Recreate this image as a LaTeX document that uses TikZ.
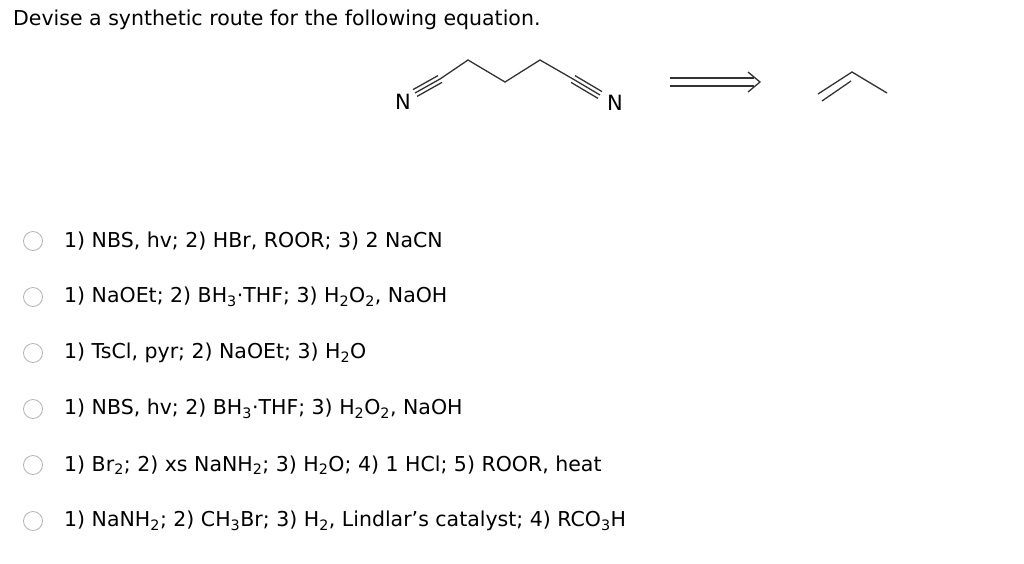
\documentclass[tikz,border=0pt]{standalone}
\usepackage{fontspec}
\setmainfont{DejaVu Sans}
\begin{document}
\begin{tikzpicture}[x=1pt,y=-1pt,
 opt/.style={anchor=west,font=\fontsize{20.5}{24}\selectfont,inner sep=0pt},
 radio/.style={circle,draw=gray!60,line width=0.8pt,minimum size=19pt,inner sep=0pt},
 bnd/.style={line width=1.3pt,black!80},
 atom/.style={font=\fontsize{21}{24}\selectfont,inner sep=1pt}]
\useasboundingbox (0,0) rectangle (1024,563);
\node[opt] (title) at (13,20) {Devise a synthetic route for the following equation.};
% molecule
\node[atom] (N1) at (403,102) {N};
\node[atom] (N2) at (615,103) {N};
\coordinate (t1) at (415,93);
\coordinate (c1) at (440,79);
\coordinate (c2) at (468,60);
\coordinate (c3) at (505,82);
\coordinate (c4) at (540,60);
\coordinate (c5) at (573,79);
\coordinate (t2) at (600,95);
\draw[bnd] (t1)--(c1)--(c2)--(c3)--(c4)--(c5)--(t2);
\foreach \s in {-4,4}{
 \draw[bnd] ([shift={(0.5*\s,0.85*\s)}]t1) -- ([shift={(0.5*\s,0.85*\s)}]c1);
 \draw[bnd] ([shift={(-0.5*\s,0.85*\s)}]c5) -- ([shift={(-0.5*\s,0.85*\s)}]t2);
}
% arrow
\draw[bnd] (670,78)--(754,78);
\draw[bnd] (670,86)--(754,86);
\draw[bnd] (748,72)--(760,82)--(748,92);
% propene
\coordinate (p1) at (818,94);
\coordinate (p2) at (852,72);
\coordinate (p3) at (887,93);
\draw[bnd] (p1)--(p2)--(p3);
\draw[bnd] (822,101)--(851,81);
% options
\foreach \y/\t [count=\i] in {
241/{1) NBS, hv; 2) HBr, ROOR; 3) 2 NaCN},
297/{1) NaOEt; 2) BH\textsubscript{3}·THF; 3) H\textsubscript{2}O\textsubscript{2}, NaOH},
353/{1) TsCl, pyr; 2) NaOEt; 3) H\textsubscript{2}O},
409/{1) NBS, hv; 2) BH\textsubscript{3}·THF; 3) H\textsubscript{2}O\textsubscript{2}, NaOH},
465/{1) Br\textsubscript{2}; 2) xs NaNH\textsubscript{2}; 3) H\textsubscript{2}O; 4) 1 HCl; 5) ROOR, heat},
521/{1) NaNH\textsubscript{2}; 2) CH\textsubscript{3}Br; 3) H\textsubscript{2}, Lindlar's catalyst; 4) RCO\textsubscript{3}H}}{
 \node[radio] (r\i) at (33,\y) {};
 \node[opt] (o\i) at (64,\y) {\t};
}
\end{tikzpicture}
\end{document}
